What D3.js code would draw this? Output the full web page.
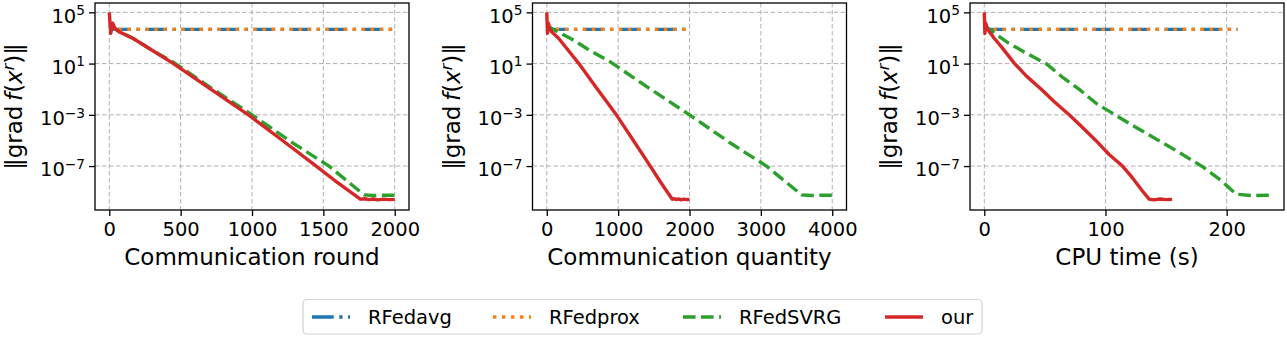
<!DOCTYPE html>
<html lang="en">
<head>
<meta charset="UTF-8">
<title>Gradient norm comparison</title>
<script src="https://cdnjs.cloudflare.com/ajax/libs/d3/7.8.5/d3.min.js"></script>
<style>
    body { margin: 0; background: #fff; }
    svg { display: block; font-family: "DejaVu Sans", sans-serif; }
    .grid line { stroke: #b0b0b0; stroke-width: 1; stroke-dasharray: 4.5 2.5; }
    .axis path, .axis line { stroke: #000; stroke-width: 1.3; }
    .axis text { font-size: 19.5px; fill: #000; }
</style>
</head>
<body>
<svg id="chart" width="1287" height="337"></svg>
<script>
// ---- data ----
// baselines (flat): RFedavg / RFedprox
const flatRound = [0, 2000];
const flatTime = [0, 209];
const rfedavgGrad = [4.7e3, 4.7e3];
const rfedproxGrad = [4.7e3, 4.7e3];

// RFedSVRG
const svrgRound = [0, 40, 168, 300, 450, 700, 1000, 1300, 1540, 1785, 1850, 1950, 2000];
const svrgQty = [0, 80, 336, 600, 900, 1400, 2000, 2600, 3080, 3570, 3700, 3900, 4000];
const svrgGrad = [1.0e4, 5.0e3, 9.0e2, 1.1e2, 12.6, 1.6e-1, 1.0e-3, 5.0e-6, 1.0e-7, 5.6e-10, 5.0e-10, 5.4e-10, 5.2e-10];
const svrgTime = [0, 5, 20, 35, 51, 65, 79, 93, 106, 120, 140, 160, 180, 195, 208, 220, 235];
const svrgTimeGrad = [1.0e4, 4.0e3, 4.0e2, 63, 10, 7.9e-1, 8.7e-2, 7.0e-3, 1.3e-3, 2.0e-4, 1.6e-5, 1.3e-6, 9.0e-8, 8.0e-9, 6.3e-10, 5.0e-10, 5.2e-10];

// our method (communication round == communication quantity)
const ourRound = [0, 10, 24, 40, 70, 168, 300, 450, 700, 975, 1200, 1450, 1600, 1759, 1790, 1820, 1850, 1880, 1920, 1960, 2000];
const ourGrad = [1.0e5, 2.3e3, 1.4e4, 5.6e3, 3.0e3, 9.0e2, 1.1e2, 10, 1.2e-1, 1.0e-3, 1.3e-5, 1.0e-7, 5.0e-9, 2.6e-10, 2.8e-10, 2.4e-10, 2.7e-10, 2.3e-10, 2.6e-10, 2.4e-10, 2.5e-10];
const ourTime = [0, 0.5, 1.2, 2.5, 8, 15, 25, 35, 47, 58, 70, 80, 92, 103, 114, 122, 130, 136, 140, 145, 150, 155];
const ourTimeGrad = [1.0e5, 2.3e3, 1.4e4, 5.0e3, 1.0e3, 1.6e2, 10, 1.0, 1.0e-1, 1.0e-2, 1.0e-3, 1.3e-4, 1.0e-5, 8.0e-7, 1.0e-7, 1.3e-8, 1.3e-9, 2.6e-10, 2.3e-10, 2.7e-10, 2.4e-10, 2.5e-10];

const xLabels = ["Communication round", "Communication quantity", "CPU time (s)"];
const xTicks = [[0, 500, 1000, 1500, 2000], [0, 1000, 2000, 3000, 4000], [0, 100, 200]];
const xDomains = [[-100, 2100], [-200, 4200], [-11.8, 247.3]];
const yTickExp = [5, 1, -3, -7];
const yDomain = [Math.pow(10, -10.43), Math.pow(10, 5.73)];

const methods = ["RFedavg", "RFedprox", "RFedSVRG", "our"];
const colors = ["#1f77b4", "#ff7f0e", "#2ca02c", "#d62728"];

// ---- layout ----
const LW = 3.4;
const dashes = [`${6.4 * LW} ${1.6 * LW} ${LW} ${1.6 * LW}`, `${LW} ${1.65 * LW}`, `${3.7 * LW} ${1.6 * LW}`, null];
const panelLeft = [95, 532.5, 970];
const panelW = 314;
const plotTop = 3, plotBottom = 210;

const zip = (xs, ys) => xs.map((x, i) => [x, ys[i]]);
const panelSeries = [
    [zip(flatRound, rfedavgGrad), zip(flatRound, rfedproxGrad), zip(svrgRound, svrgGrad), zip(ourRound, ourGrad)],
    [zip(flatRound, rfedavgGrad), zip(flatRound, rfedproxGrad), zip(svrgQty, svrgGrad), zip(ourRound, ourGrad)],
    [zip(flatTime, rfedavgGrad), zip(flatTime, rfedproxGrad), zip(svrgTime, svrgTimeGrad), zip(ourTime, ourTimeGrad)]
];

const svg = d3.select("#chart");
const y = d3.scaleLog().domain(yDomain).range([plotBottom, plotTop]);

panelSeries.forEach((series, p) => {
    const left = panelLeft[p];
    const x = d3.scaleLinear().domain(xDomains[p]).range([left, left + panelW]);
    const g = svg.append("g");

    // grid
    const grid = g.append("g").attr("class", "grid");
    grid.selectAll(".gx").data(xTicks[p]).enter().append("line")
        .attr("x1", d => x(d)).attr("x2", d => x(d))
        .attr("y1", plotTop).attr("y2", plotBottom);
    grid.selectAll(".gy").data(yTickExp).enter().append("line")
        .attr("x1", left).attr("x2", left + panelW)
        .attr("y1", d => y(Math.pow(10, d))).attr("y2", d => y(Math.pow(10, d)));

    // lines
    const clipId = "clip" + p;
    svg.append("clipPath").attr("id", clipId).append("rect")
        .attr("x", left).attr("y", plotTop).attr("width", panelW).attr("height", plotBottom - plotTop);
    const line = d3.line().x(d => x(d[0])).y(d => y(d[1]));
    series.forEach((s, i) => {
        g.append("path")
            .attr("clip-path", `url(#${clipId})`)
            .attr("d", line(s))
            .attr("fill", "none")
            .attr("stroke", colors[i])
            .attr("stroke-width", LW)
            .attr("stroke-linejoin", "round")
            .attr("stroke-dasharray", dashes[i]);
    });

    // frame
    g.append("rect").attr("x", left).attr("y", plotTop).attr("width", panelW).attr("height", plotBottom - plotTop)
        .attr("fill", "none").attr("stroke", "#000").attr("stroke-width", 1.3);

    // x axis
    const xAxis = g.append("g").attr("class", "axis")
        .attr("transform", `translate(0,${plotBottom})`)
        .call(d3.axisBottom(x).tickValues(xTicks[p]).tickSize(6).tickFormat(d3.format("d")));
    xAxis.select(".domain").remove();
    xAxis.selectAll("text").attr("y", 12).attr("dy", "0.74em").attr("font-family", "DejaVu Sans");

    // y axis
    const yAxis = g.append("g").attr("class", "axis")
        .attr("transform", `translate(${left},0)`)
        .call(d3.axisLeft(y).tickValues(yTickExp.map(e => Math.pow(10, e))).tickSize(6).tickFormat(""));
    yAxis.select(".domain").remove();
    yAxis.selectAll(".tick").each(function(d, i) {
        const t = d3.select(this).append("text")
            .attr("x", -10).attr("dy", "0.5em")
            .attr("text-anchor", "end").attr("fill", "#000")
            .attr("font-family", "DejaVu Sans");
        t.append("tspan").text("10");
        const e = yTickExp[i];
        t.append("tspan").attr("dy", -7.5).attr("font-size", "13.7px")
            .text(e < 0 ? "\u2212" + (-e) : String(e));
    });

    // axis labels
    g.append("text")
        .attr("x", left + panelW / 2).attr("y", 265)
        .attr("text-anchor", "middle").attr("font-size", "23px")
        .text(xLabels[p]);

    const yl = g.append("text")
        .attr("transform", `translate(${left - 73},${(plotTop + plotBottom) / 2}) rotate(-90)`)
        .attr("text-anchor", "middle").attr("font-size", "23px");
    yl.append("tspan").text("\u2016grad\u2009");
    yl.append("tspan").attr("font-style", "italic").text("f");
    yl.append("tspan").text("(");
    yl.append("tspan").attr("font-style", "italic").text("x");
    yl.append("tspan").attr("font-style", "italic").attr("font-size", "16px").attr("dy", -8).text("r");
    yl.append("tspan").attr("dy", 8).text(")\u2016");
});

// ---- legend ----
const legend = svg.append("g");
legend.append("rect")
    .attr("x", 303).attr("y", 299.5).attr("width", 679).attr("height", 34.5).attr("rx", 4)
    .attr("fill", "#fff").attr("stroke", "#d3d3d3").attr("stroke-width", 1.2);
const legendX = [312, 493, 683, 885];
methods.forEach((m, i) => {
    legend.append("line")
        .attr("x1", legendX[i]).attr("x2", legendX[i] + 38)
        .attr("y1", 317).attr("y2", 317)
        .attr("stroke", colors[i]).attr("stroke-width", LW)
        .attr("stroke-dasharray", dashes[i]);
    legend.append("text")
        .attr("x", legendX[i] + 56).attr("y", 317).attr("dy", "0.36em")
        .attr("font-size", "19.5px")
        .text(m);
});
</script>
</body>
</html>
